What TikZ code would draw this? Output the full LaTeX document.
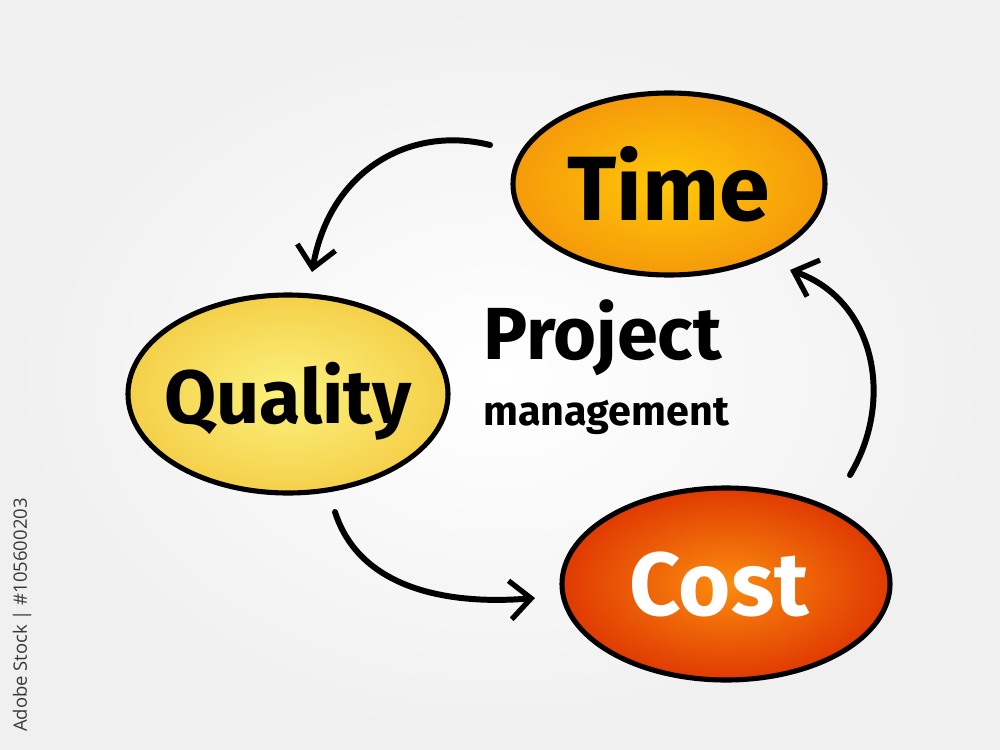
\documentclass[tikz,border=0pt]{standalone}
\usepackage{fontspec}
\setmainfont{Fira Sans}
\newfontfamily\wmfont{Open Sans}
\usetikzlibrary{shapes.geometric,arrows.meta}

\definecolor{timein}{HTML}{FFC807}
\definecolor{timeout}{HTML}{F59A0A}
\definecolor{qualin}{HTML}{FBF27E}
\definecolor{qualout}{HTML}{F5D049}
\definecolor{costin}{HTML}{FB8C0E}
\definecolor{costout}{HTML}{E03A02}

\tikzset{
  bubble/.style={ellipse,draw=black,line width=2.9pt,inner sep=0pt},
  lbl/.style={font=\bfseries\fontsize{#1}{#1}\selectfont},
  handarrow/.style={line width=3.4pt,line cap=round,
    -{Straight Barb[length=12pt,width=22pt,line width=3pt]}}
}

\begin{document}
\begin{tikzpicture}[x=0.02cm,y=-0.02cm]
		% background
		\shade[inner color=white,outer color=black!6] (0,0) rectangle (1000,750);
		\useasboundingbox (0,0) rectangle (1000,750);
		% the three ellipses
		\node[bubble,inner color=timein,outer color=timeout,minimum width=312*0.02cm,minimum height=182*0.02cm] (time) at (669,184) {};
		\node[bubble,inner color=qualin,outer color=qualout,minimum width=320*0.02cm,minimum height=198*0.02cm] (quality) at (288,394) {};
		\node[bubble,inner color=costin,outer color=costout,minimum width=328*0.02cm,minimum height=192*0.02cm] (cost) at (726,584) {};
		\node[lbl=52pt] at (time) {Time};
		\node[lbl=43pt] at ([yshift=-4]quality.center) {Quality};
		\node[lbl=51pt,text=white] at ([xshift=-4]cost.center) {Cost};
		% centre text
		\node[lbl=42pt,anchor=south west] (pm) at (477,382) {Project};
		\node[lbl=23.5pt,anchor=north west,inner sep=0pt] (pmsub) at (483,398) {management};
		% arrows
		\coordinate (a1s) at (490,145);
		\coordinate (a1e) at (312,272);
		\coordinate (a2s) at (335,512);
		\coordinate (a2e) at (535,598);
		\coordinate (a3s) at (850,475);
		\coordinate (a3e) at (790,270);
		\draw[handarrow] (a1s) .. controls (410,125) and (330,170) .. (a1e);
		\draw[handarrow] (a2s) .. controls (360,590) and (450,605) .. (a2e);
		\draw[handarrow] (a3s) .. controls (895,400) and (875,300) .. (a3e);
		% watermark
		\node[font=\wmfont\fontsize{10.5pt}{10.5pt}\selectfont,text=black!78,rotate=90,anchor=west] (wm) at (22,738) {Adobe Stock | \#105600203};
	\end{tikzpicture}
\end{document}
